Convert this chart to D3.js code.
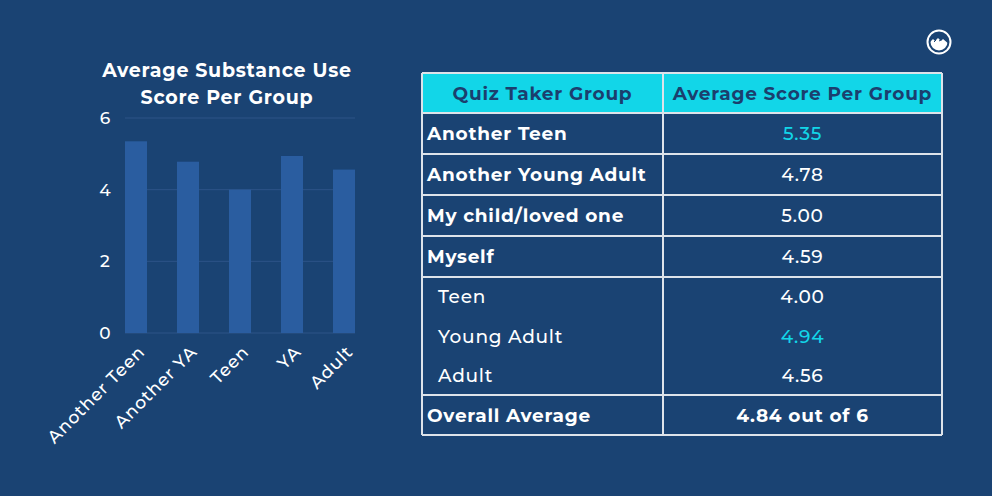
<!DOCTYPE html>
<html><head><meta charset="utf-8">
<script src="https://cdn.jsdelivr.net/npm/d3@7"></script>
<style>
html,body{margin:0;padding:0;background:#1a4373;}
svg{display:block;font-family:Montserrat,Inter,"Open Sans",sans-serif;}
</style></head>
<body>
<svg id="c" width="992" height="496"></svg>
<script>
// ---- data ----
const categories = ["Another Teen","Another YA","Teen","YA","Adult"];
const values = [5.35,4.78,4.00,4.94,4.56];
const yTicks = [0,2,4,6];
const chartTitle = ["Average Substance Use","Score Per Group"];

const tableHeader = ["Quiz Taker Group","Average Score Per Group"];
const rowLabels = ["Another Teen","Another Young Adult","My child/loved one","Myself","Teen","Young Adult","Adult","Overall Average"];
const rowValues = ["5.35","4.78","5.00","4.59","4.00","4.94","4.56","4.84 out of 6"];
const rowIsSub = [false,false,false,false,true,true,true,false];
const rowHighlight = [true,false,false,false,false,true,false,false];

// ---- styles ----
const bg = "#1a4373", barColor = "#2a5da0", gridColor = "#2d5488";
const cyan = "#12d6e8", headerText = "#1b3f6e", border = "#dde3ea";
const ls = "0.75px";

const svg = d3.select("#c");
svg.append("rect").attr("width",992).attr("height",496).attr("fill",bg);

// ---- bar chart ----
const x = d3.scaleBand().domain(categories).range([125,355]).paddingInner(0.577).paddingOuter(0);
const y = d3.scaleLinear().domain([0,6]).range([333,118]);

const g = svg.append("g");
g.selectAll("line.grid").data(yTicks).join("line")
  .attr("x1",125).attr("x2",355)
  .attr("y1",d=>y(d)).attr("y2",d=>y(d))
  .attr("stroke",gridColor).attr("stroke-width",1);

g.selectAll("rect.bar").data(values).join("rect")
  .attr("x",(d,i)=>x(categories[i])).attr("width",x.bandwidth())
  .attr("y",d=>y(d)).attr("height",d=>y(0)-y(d))
  .attr("fill",barColor);

g.selectAll("text.yt").data(yTicks).join("text")
  .attr("x",105).attr("y",d=>y(d)).attr("dy","0.35em")
  .attr("text-anchor","middle").attr("fill","#fff")
  .attr("font-size",17).attr("font-weight",500).text(d=>d);

g.selectAll("text.xt").data(categories).join("text")
  .attr("transform",d=>`translate(${x(d)+x.bandwidth()/2+10},${y(0)+20}) rotate(-45)`)
  .attr("text-anchor","end").attr("fill","#fff").attr("letter-spacing",ls)
  .attr("font-size",17.5).attr("font-weight",500).text(d=>d);

svg.selectAll("text.title").data(chartTitle).join("text")
  .attr("x",227).attr("y",(d,i)=>77+i*27)
  .attr("text-anchor","middle").attr("fill","#fff").attr("letter-spacing",ls)
  .attr("font-size",19).attr("font-weight",700).text(d=>d);

// ---- table ----
const tx0 = 422, tx1 = 663, tx2 = 942;
const ry = d3.scaleLinear().domain([-1.5,-0.5,3.5,6.5,7.5]).range([73,113,277,395,435]);
const t = svg.append("g");
t.append("rect").attr("x",tx0).attr("y",ry(-1.5)).attr("width",tx2-tx0).attr("height",ry(-0.5)-ry(-1.5)).attr("fill",cyan);
const hLines = [-1.5,-0.5];
rowLabels.forEach((d,i)=>{ if(!(rowIsSub[i] && rowIsSub[i+1])) hLines.push(i+0.5); });
t.selectAll("line.h").data(hLines).join("line")
  .attr("x1",tx0).attr("x2",tx2).attr("y1",d=>ry(d)).attr("y2",d=>ry(d))
  .attr("stroke",border).attr("stroke-width",2);
t.selectAll("line.v").data([tx0,tx1,tx2]).join("line")
  .attr("x1",d=>d).attr("x2",d=>d).attr("y1",ry(-1.5)).attr("y2",ry(7.5))
  .attr("stroke",border).attr("stroke-width",2);

t.selectAll("text.hd").data(tableHeader).join("text")
  .attr("x",(d,i)=>i===0?(tx0+tx1)/2:(tx1+tx2)/2).attr("y",ry(-1)).attr("dy","0.36em")
  .attr("text-anchor","middle").attr("fill",headerText).attr("letter-spacing",ls)
  .attr("font-size",18.5).attr("font-weight",700).text(d=>d);

t.selectAll("text.rl").data(rowLabels).join("text")
  .attr("x",(d,i)=>rowIsSub[i]?438:427).attr("y",(d,i)=>ry(i)).attr("dy","0.36em")
  .attr("fill","#fff").attr("font-size",18.5).attr("letter-spacing",ls)
  .attr("font-weight",(d,i)=>rowIsSub[i]?500:700).text(d=>d);
t.selectAll("text.rv").data(rowValues).join("text")
  .attr("x",(tx1+tx2)/2).attr("y",(d,i)=>ry(i)).attr("dy","0.36em")
  .attr("text-anchor","middle").attr("fill",(d,i)=>rowHighlight[i]?cyan:"#fff").attr("letter-spacing",ls)
  .attr("font-size",18.5).attr("font-weight",(d,i)=>i===rowLabels.length-1?700:500).text(d=>d);

// ---- logo ----
const logo = svg.append("g").attr("transform","translate(939,42)");
logo.append("clipPath").attr("id","lc").append("circle").attr("r",8.5);
logo.append("circle").attr("r",11.5).attr("fill","none").attr("stroke","#fff").attr("stroke-width",2);
logo.append("path").attr("fill","#fff").attr("clip-path","url(#lc)")
  .attr("d","M-10,10 L-10,1 L-6,-3 L-4,-1 L-1,-4 L2,-1 L4,-3 L10,2 L10,10 Z");
logo.append("path").attr("fill","none").attr("stroke",bg).attr("stroke-width",1)
  .attr("d","M-5,0 L-3,-2 M0,-1 L2,-2");
</script>
</body></html>
